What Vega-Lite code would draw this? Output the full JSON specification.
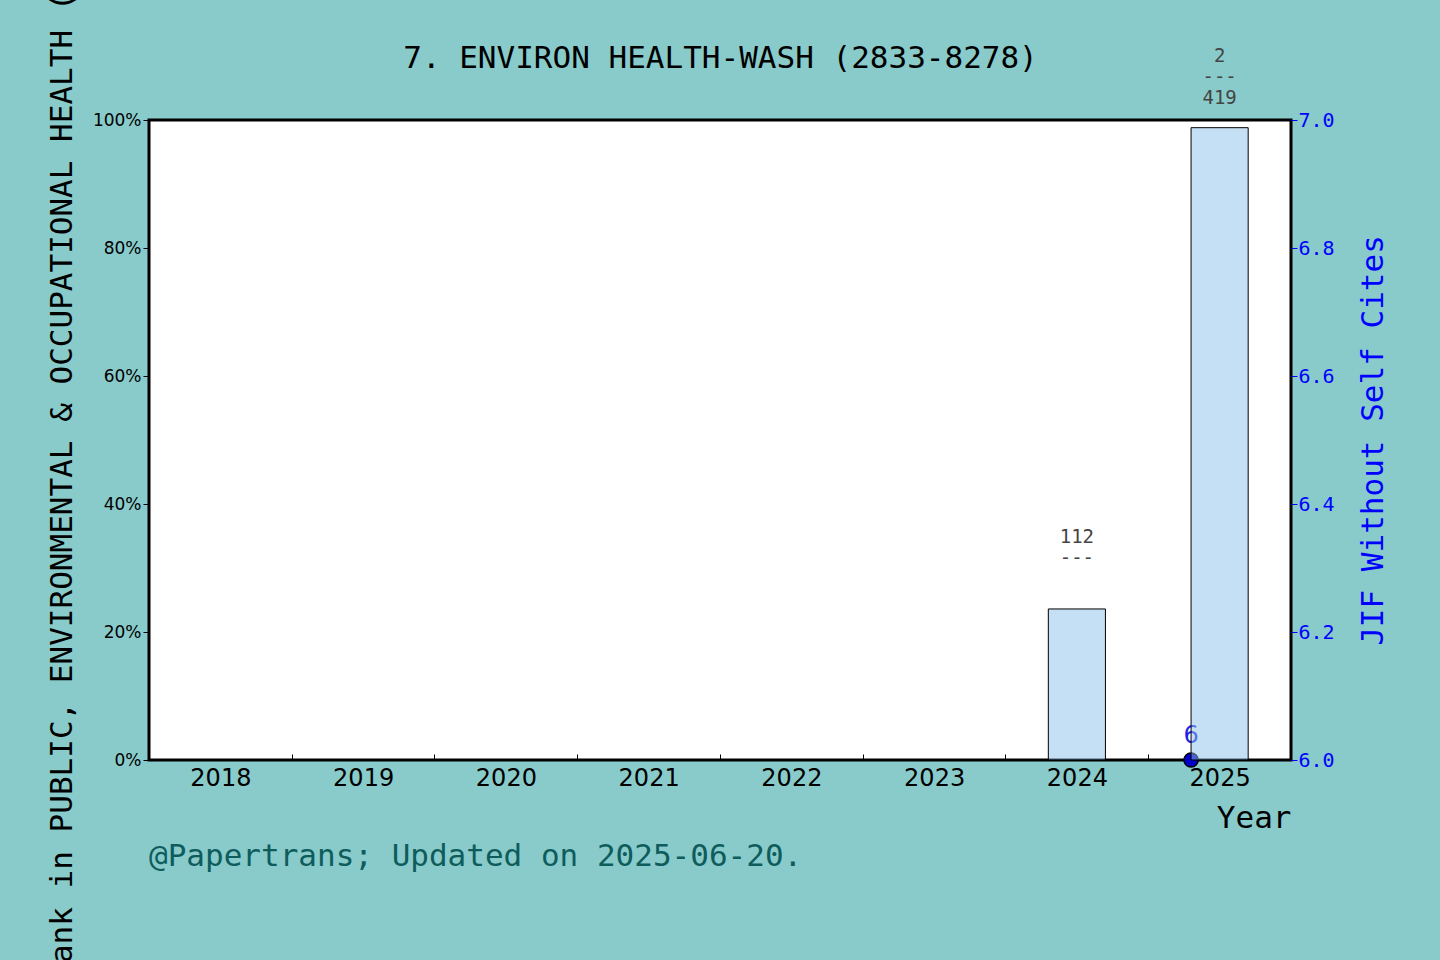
{
  "$schema": "https://vega.github.io/schema/vega-lite/v6.json",
  "width": 1142,
  "height": 640,
  "autosize": {"type": "none"},
  "padding": {"left": 149, "top": 120, "right": 149, "bottom": 200},
  "background": "#88CBCA",
  "title": {
    "text": "@Papertrans; Updated on 2025-06-20.",
    "orient": "bottom",
    "anchor": "start",
    "frame": "group",
    "font": "DejaVu Sans Mono",
    "fontSize": 31,
    "fontWeight": "normal",
    "color": "#0F5C5C",
    "offset": -139
  },
  "datasets": {
    "rank": [
      {"year": "2024", "pct": 0.236, "label": "112\n---\n"},
      {"year": "2025", "pct": 0.988, "label": "2\n---\n419"}
    ],
    "jif": [
      {"year": "2025", "jif": 6.0, "txt": "6"}
    ]
  },
  "layer": [
    {
      "data": {"name": "jif"},
      "encoding": {
        "x": {
          "field": "year",
          "type": "ordinal",
          "bandPosition": 0,
          "scale": {
            "domain": ["2018", "2019", "2020", "2021", "2022", "2023", "2024", "2025"],
            "paddingInner": 0.6,
            "paddingOuter": 0.3
          },
          "axis": {
            "orient": "top",
            "title": "7. ENVIRON HEALTH-WASH (2833-8278)",
            "labels": false,
            "ticks": false,
            "domain": false,
            "titleFont": "DejaVu Sans Mono",
            "titleFontSize": 31,
            "titleFontWeight": "normal",
            "titleColor": "black",
            "titlePadding": 46
          }
        },
        "y": {
          "field": "jif",
          "type": "quantitative",
          "scale": {"domain": [6, 7], "nice": false, "zero": false},
          "axis": {
            "orient": "right",
            "values": [6, 6.2, 6.4, 6.6, 6.8, 7],
            "format": ".1f",
            "grid": false,
            "domain": false,
            "labelFont": "DejaVu Sans Mono",
            "labelFontSize": 20,
            "labelColor": "#0000FF",
            "labelPadding": 1,
            "tickColor": "#0000FF",
            "tickSize": 6,
            "title": "JIF Without Self Cites",
            "titleFont": "DejaVu Sans Mono",
            "titleFontSize": 31,
            "titleFontWeight": "normal",
            "titleColor": "#0000FF",
            "titleAngle": 270,
            "titlePadding": 55
          }
        }
      },
      "layer": [
        {
          "mark": {"type": "point", "filled": true, "shape": "circle", "size": 200, "color": "#0000CC", "stroke": "black", "strokeWidth": 1.5, "opacity": 1}
        },
        {
          "mark": {"type": "text", "dy": -12, "baseline": "bottom", "font": "DejaVu Sans", "fontSize": 24, "color": "#1F1FE6"},
          "encoding": {"text": {"field": "txt"}}
        }
      ]
    },
    {
      "data": {"name": "rank"},
      "encoding": {
        "x": {
          "field": "year",
          "type": "ordinal",
          "axis": {
            "orient": "bottom",
            "labelAngle": 0,
            "labelFont": "DejaVu Sans",
            "labelFontSize": 24,
            "labelColor": "black",
            "labelPadding": 12,
            "labelOffset": -71.375,
            "tickOffset": 71.375,
            "tickSize": -6,
            "tickColor": "black",
            "domain": false,
            "title": "Year",
            "titleFont": "DejaVu Sans Mono",
            "titleFontSize": 31,
            "titleFontWeight": "normal",
            "titleColor": "black",
            "titleAnchor": "end",
            "titlePadding": 13
          }
        },
        "y": {
          "field": "pct",
          "type": "quantitative",
          "scale": {"domain": [0, 1], "nice": false},
          "axis": {
            "orient": "left",
            "values": [0, 0.2, 0.4, 0.6, 0.8, 1],
            "format": ".0%",
            "grid": false,
            "domain": false,
            "labelFont": "DejaVu Sans",
            "labelFontSize": 17,
            "labelColor": "black",
            "labelPadding": 2,
            "tickColor": "black",
            "tickSize": 6,
            "title": "Rank in PUBLIC, ENVIRONMENTAL & OCCUPATIONAL HEALTH (SSCI)",
            "titleFont": "DejaVu Sans Mono",
            "titleFontSize": 31,
            "titleFontWeight": "normal",
            "titleColor": "black",
            "titleLimit": 3000,
            "titlePadding": 14
          }
        }
      },
      "layer": [
        {
          "mark": {"type": "bar", "fill": "#8BC1EB", "fillOpacity": 0.5, "stroke": "black", "strokeWidth": 1}
        },
        {
          "mark": {"type": "text", "baseline": "bottom", "dy": -62, "lineBreak": "\n", "lineHeight": 21, "font": "DejaVu Sans Mono", "fontSize": 19, "color": "#444444"},
          "encoding": {"text": {"field": "label"}}
        }
      ]
    }
  ],
  "resolve": {"scale": {"y": "independent"}},
  "config": {
    "view": {"stroke": "black", "strokeWidth": 3, "fill": "white"}
  }
}
